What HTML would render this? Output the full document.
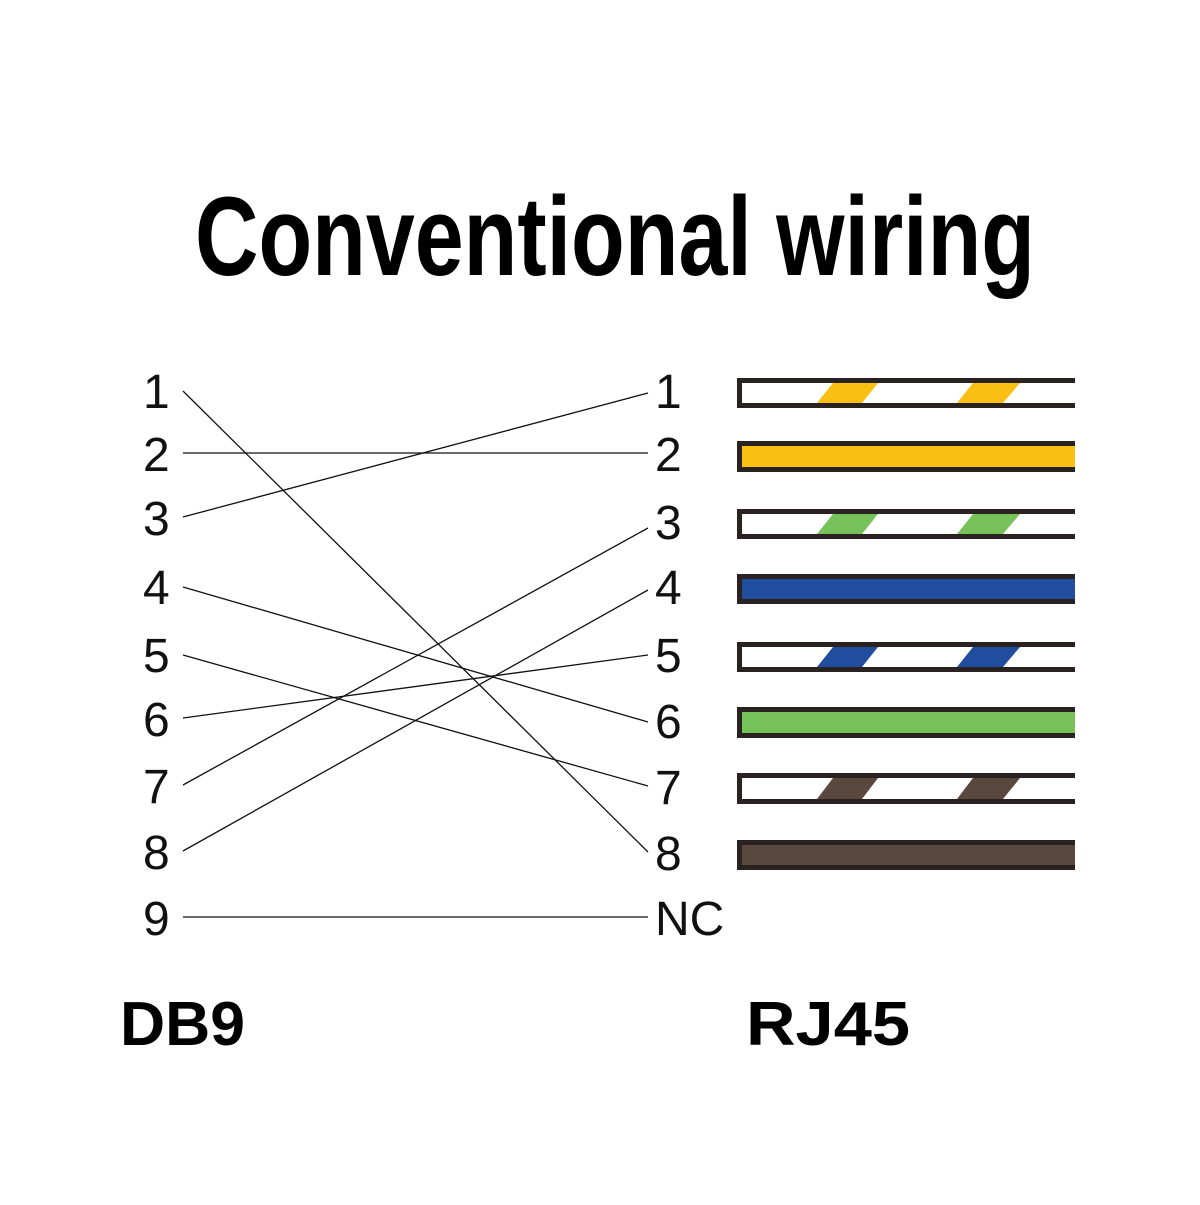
<!DOCTYPE html>
<html><head><style>html,body{margin:0;padding:0;background:#fff}</style></head>
<body>
<svg width="1200" height="1200" xmlns="http://www.w3.org/2000/svg" font-family="Liberation Sans, sans-serif">
<rect width="1200" height="1200" fill="#fff"/>
<text x="195" y="275" font-size="112" font-weight="bold" textLength="840" lengthAdjust="spacingAndGlyphs">Conventional wiring</text>
<g font-size="48" fill="#111">
<text x="143" y="408">1</text><text x="143" y="471">2</text><text x="143" y="535">3</text><text x="143" y="604">4</text><text x="143" y="672">5</text><text x="143" y="736">6</text><text x="143" y="803">7</text><text x="143" y="869">8</text><text x="143" y="935">9</text>
<text x="655" y="408">1</text><text x="655" y="471">2</text><text x="655" y="539">3</text><text x="655" y="604">4</text><text x="655" y="672">5</text><text x="655" y="738">6</text><text x="655" y="804">7</text><text x="655" y="870">8</text><text x="655" y="935">NC</text>
</g>
<g stroke="#111" stroke-width="1.3">
<line x1="183" y1="391" x2="648" y2="852"/>
<line x1="183" y1="453" x2="648" y2="453"/>
<line x1="183" y1="517" x2="648" y2="393"/>
<line x1="183" y1="587" x2="648" y2="722"/>
<line x1="183" y1="655" x2="648" y2="786"/>
<line x1="183" y1="718" x2="648" y2="655"/>
<line x1="183" y1="785" x2="648" y2="528"/>
<line x1="183" y1="851" x2="648" y2="590"/>
<line x1="183" y1="917" x2="648" y2="917"/>
</g>
<g>
<rect x="737" y="378" width="338" height="30" fill="#2a2220"/><rect x="742" y="383" width="333" height="20" fill="#fff"/>
<polygon points="817,403 833,383 878,383 862,403" fill="#f9c013"/><polygon points="957,403 973,383 1020,383 1003,403" fill="#f9c013"/>
<rect x="737" y="441" width="338" height="31" fill="#2a2220"/><rect x="742" y="446" width="333" height="21" fill="#f9c013"/>
<rect x="737" y="509" width="338" height="30" fill="#2a2220"/><rect x="742" y="514" width="333" height="20" fill="#fff"/>
<polygon points="817,534 833,514 878,514 862,534" fill="#76c15a"/><polygon points="957,534 973,514 1020,514 1003,534" fill="#76c15a"/>
<rect x="737" y="574" width="338" height="30" fill="#2a2220"/><rect x="742" y="579" width="333" height="20" fill="#214d9f"/>
<rect x="737" y="642" width="338" height="30" fill="#2a2220"/><rect x="742" y="647" width="333" height="20" fill="#fff"/>
<polygon points="817,667 833,647 878,647 862,667" fill="#214d9f"/><polygon points="957,667 973,647 1020,647 1003,667" fill="#214d9f"/>
<rect x="737" y="707" width="338" height="31" fill="#2a2220"/><rect x="742" y="712" width="333" height="21" fill="#76c15a"/>
<rect x="737" y="773" width="338" height="31" fill="#2a2220"/><rect x="742" y="778" width="333" height="21" fill="#fff"/>
<polygon points="817,799 833,778 878,778 862,799" fill="#5a483e"/><polygon points="957,799 973,778 1020,778 1003,799" fill="#5a483e"/>
<rect x="737" y="840" width="338" height="30" fill="#2a2220"/><rect x="742" y="845" width="333" height="20" fill="#5a483e"/>
</g>
<text x="120" y="1045" font-size="62" font-weight="bold" textLength="125" lengthAdjust="spacingAndGlyphs">DB9</text>
<text x="746" y="1045" font-size="62" font-weight="bold" textLength="164" lengthAdjust="spacingAndGlyphs">RJ45</text>
</svg>
</body></html>
